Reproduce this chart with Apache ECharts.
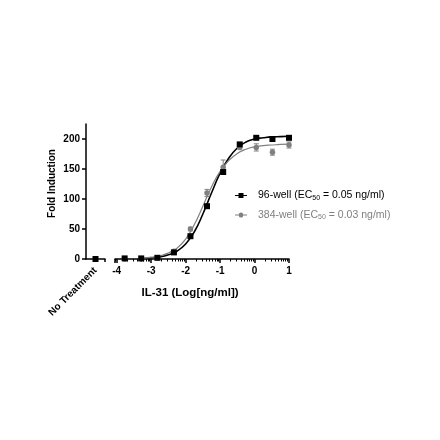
<!DOCTYPE html>
<html><head><meta charset="utf-8">
<script src="https://cdn.jsdelivr.net/npm/echarts@6/dist/echarts.min.js"></script>
<style>html,body{margin:0;padding:0;background:#fff}#c{width:440px;height:440px}</style>
</head><body><div id="c"></div>
<script>
// ---- data ----
const doseLog = [-3.77, -3.29, -2.82, -2.34, -1.86, -1.38, -0.91, -0.43, 0.05, 0.52, 1.0];
const well96 = [1, 1, 2, 11, 38, 88, 145, 191, 202, 200, 202];
const well96Err = [0, 0, 0, 1, 2, 2, 3, 3, 2, 2, 3];
const well384 = [0, 0, 2, 13, 50, 110, 153, 186, 186, 178, 190];
const well384Err = [0, 0, 1, 2, 3, 6, 12, 3, 6, 5, 5];
const noTreat96 = 0, noTreat384 = 0;
// fitted curves
const curveX = [-3.2, -3.0, -2.75, -2.5, -2.25, -2.0, -1.75, -1.5, -1.25, -1.0, -0.75, -0.5, -0.25, 0, 0.25, 0.5, 0.75, 1.0];
const curve96 = [1, 2, 3.5, 7, 13, 25, 45, 75, 110, 143, 168, 185, 195, 200, 202, 203.5, 204, 204.5];
const curve384 = [1.5, 3, 5, 10, 18, 33, 57, 88, 120, 146, 164, 176, 183, 187, 189, 190, 191, 191.5];
const xMajor = [-4, -3, -2, -1, 0, 1];
const yTicks = [0, 50, 100, 150, 200];
const name96 = '96-well (EC{sub|50} = 0.05 ng/ml)';
const name384 = '384-well (EC{sub|50} = 0.03 ng/ml)';

const xMinor = [];
for (let d = -5; d <= 0; d++) for (let k = 2; k <= 9; k++) {
  const v = d + Math.log10(k);
  if (v > -4.05 && v < 1) xMinor.push(+v.toFixed(4));
}
const zip = (xs, ys) => xs.map((x, i) => [x, ys[i]]);
const errData = (ys, es) => doseLog.map((x, i) => [x, ys[i] - es[i], ys[i] + es[i]]).filter((d, i) => es[i] > 0);

const FONT = 'Liberation Sans, Arial, sans-serif';
const BLACK = '#000', GREY = '#808080';
const TOP = 124, H = 135;

function errRender(color) {
  return function (params, api) {
    const x = api.value(0);
    const lo = api.coord([x, api.value(1)]);
    const hi = api.coord([x, api.value(2)]);
    const w = 2.5;
    return {
      type: 'group',
      children: [
        {type: 'line', shape: {x1: lo[0], y1: lo[1], x2: hi[0], y2: hi[1]}, style: {stroke: color, lineWidth: 1}},
        {type: 'line', shape: {x1: hi[0] - w, y1: hi[1], x2: hi[0] + w, y2: hi[1]}, style: {stroke: color, lineWidth: 1}},
        {type: 'line', shape: {x1: lo[0] - w, y1: lo[1], x2: lo[0] + w, y2: lo[1]}, style: {stroke: color, lineWidth: 1}}
      ]
    };
  };
}

const axisLine = {show: true, lineStyle: {color: BLACK, width: 1.5}};
const labelStyle = {color: BLACK, fontFamily: FONT, fontWeight: 'bold', fontSize: 10};

const option = {
  animation: false,
  backgroundColor: '#fff',
  grid: [
    {left: 86, top: TOP, width: 19, height: H},
    {left: 115, top: TOP, width: 174, height: H}
  ],
  xAxis: [
    {gridIndex: 0, type: 'value', min: 0, max: 2,
     axisLine: axisLine, splitLine: {show: false},
     axisTick: {show: true, customValues: [1, 2], length: 3, lineStyle: {color: BLACK, width: 1.5}},
     axisLabel: Object.assign({}, labelStyle, {customValues: [1], rotate: 45, margin: 10, fontSize: 10, formatter: () => 'No Treatment'})},
    {gridIndex: 1, type: 'value', min: -4.05, max: 1, position: 'bottom',
     name: 'IL-31 (Log[ng/ml])', nameLocation: 'middle', nameGap: 28,
     nameTextStyle: {color: BLACK, fontFamily: FONT, fontWeight: 'bold', fontSize: 11.5, padding: [0, 24, 0, 0]},
     axisLine: axisLine, splitLine: {show: false},
     axisTick: {show: true, customValues: xMajor.concat([-4.05]), length: 4, lineStyle: {color: BLACK, width: 1.5}},
     axisLabel: Object.assign({customValues: xMajor, margin: 7}, labelStyle)},
    {gridIndex: 1, type: 'value', min: -4.05, max: 1, position: 'bottom',
     axisLine: {show: false}, splitLine: {show: false},
     axisTick: {show: true, customValues: xMinor, length: 2.5, lineStyle: {color: BLACK, width: 1}},
     axisLabel: {show: false}}
  ],
  yAxis: [
    {gridIndex: 0, type: 'value', min: 0, max: 225,
     name: 'Fold Induction', nameLocation: 'middle', nameGap: 29,
     nameTextStyle: {color: BLACK, fontFamily: FONT, fontWeight: 'bold', fontSize: 10, padding: [0, 0, 0, 16]},
     axisLine: axisLine, splitLine: {show: false},
     axisTick: {show: true, customValues: yTicks, length: 4, lineStyle: {color: BLACK, width: 1.5}},
     axisLabel: Object.assign({customValues: yTicks, margin: 6}, labelStyle)},
    {gridIndex: 1, type: 'value', min: 0, max: 225, show: false, position: 'left', offset: 90,
     axisLine: {show: false}, axisTick: {show: false}, splitLine: {show: false},
     axisLabel: {show: false, formatter: () => '', color: 'rgba(0,0,0,0)'}}
  ],
  legend: {
    orient: 'vertical', left: 235, top: 190, itemGap: 8, padding: 0,
    itemWidth: 12, itemHeight: 6,
    textStyle: {fontFamily: FONT, fontSize: 10.5, color: BLACK, padding: [0, 0, 0, 6],
      rich: {sub: {fontSize: 7, padding: [5, 0, 0, 0], fontFamily: FONT}}},
    data: [
      {name: name96, icon: 'path://M0,2.5H3.5V0.5H8.5V2.5H12V3.5H8.5V5.5H3.5V3.5H0Z', textStyle: {color: BLACK}},
      {name: name384, icon: 'path://M0,2.6H3.8A2.2,2.2,0,0,1,8.2,2.6H12V3.4H8.2A2.2,2.2,0,0,1,3.8,3.4H0Z', textStyle: {color: GREY}}
    ]
  },
  series: [
    {type: 'line', xAxisIndex: 1, yAxisIndex: 1, data: zip(curveX, curve96),
     smooth: 0.5, showSymbol: false, lineStyle: {color: BLACK, width: 1.6}, z: 2},
    {type: 'line', xAxisIndex: 1, yAxisIndex: 1, data: zip(curveX, curve384),
     smooth: 0.5, showSymbol: false, lineStyle: {color: GREY, width: 1.2}, z: 2},
    {type: 'custom', xAxisIndex: 1, yAxisIndex: 1, renderItem: errRender(GREY), data: errData(well384, well384Err), z: 3},
    {type: 'custom', xAxisIndex: 1, yAxisIndex: 1, renderItem: errRender(BLACK), data: errData(well96, well96Err), z: 3},
    {type: 'scatter', name: name384, xAxisIndex: 1, yAxisIndex: 1, data: zip(doseLog, well384),
     symbol: 'circle', symbolSize: 5.5, itemStyle: {color: GREY, opacity: 1}, z: 4},
    {type: 'scatter', name: name96, xAxisIndex: 1, yAxisIndex: 1, data: zip(doseLog, well96),
     symbol: 'rect', symbolSize: 6, itemStyle: {color: BLACK, opacity: 1}, z: 5},
    {type: 'scatter', xAxisIndex: 0, yAxisIndex: 0, data: [[1, noTreat384]],
     symbol: 'circle', symbolSize: 5.5, itemStyle: {color: GREY, opacity: 1}, z: 4},
    {type: 'scatter', xAxisIndex: 0, yAxisIndex: 0, data: [[1, noTreat96]],
     symbol: 'rect', symbolSize: 6, itemStyle: {color: BLACK, opacity: 1}, z: 5}
  ]
};
const chart = echarts.init(document.getElementById('c'), null, {renderer: 'canvas'});
chart.setOption(option);
</script>
</body></html>
